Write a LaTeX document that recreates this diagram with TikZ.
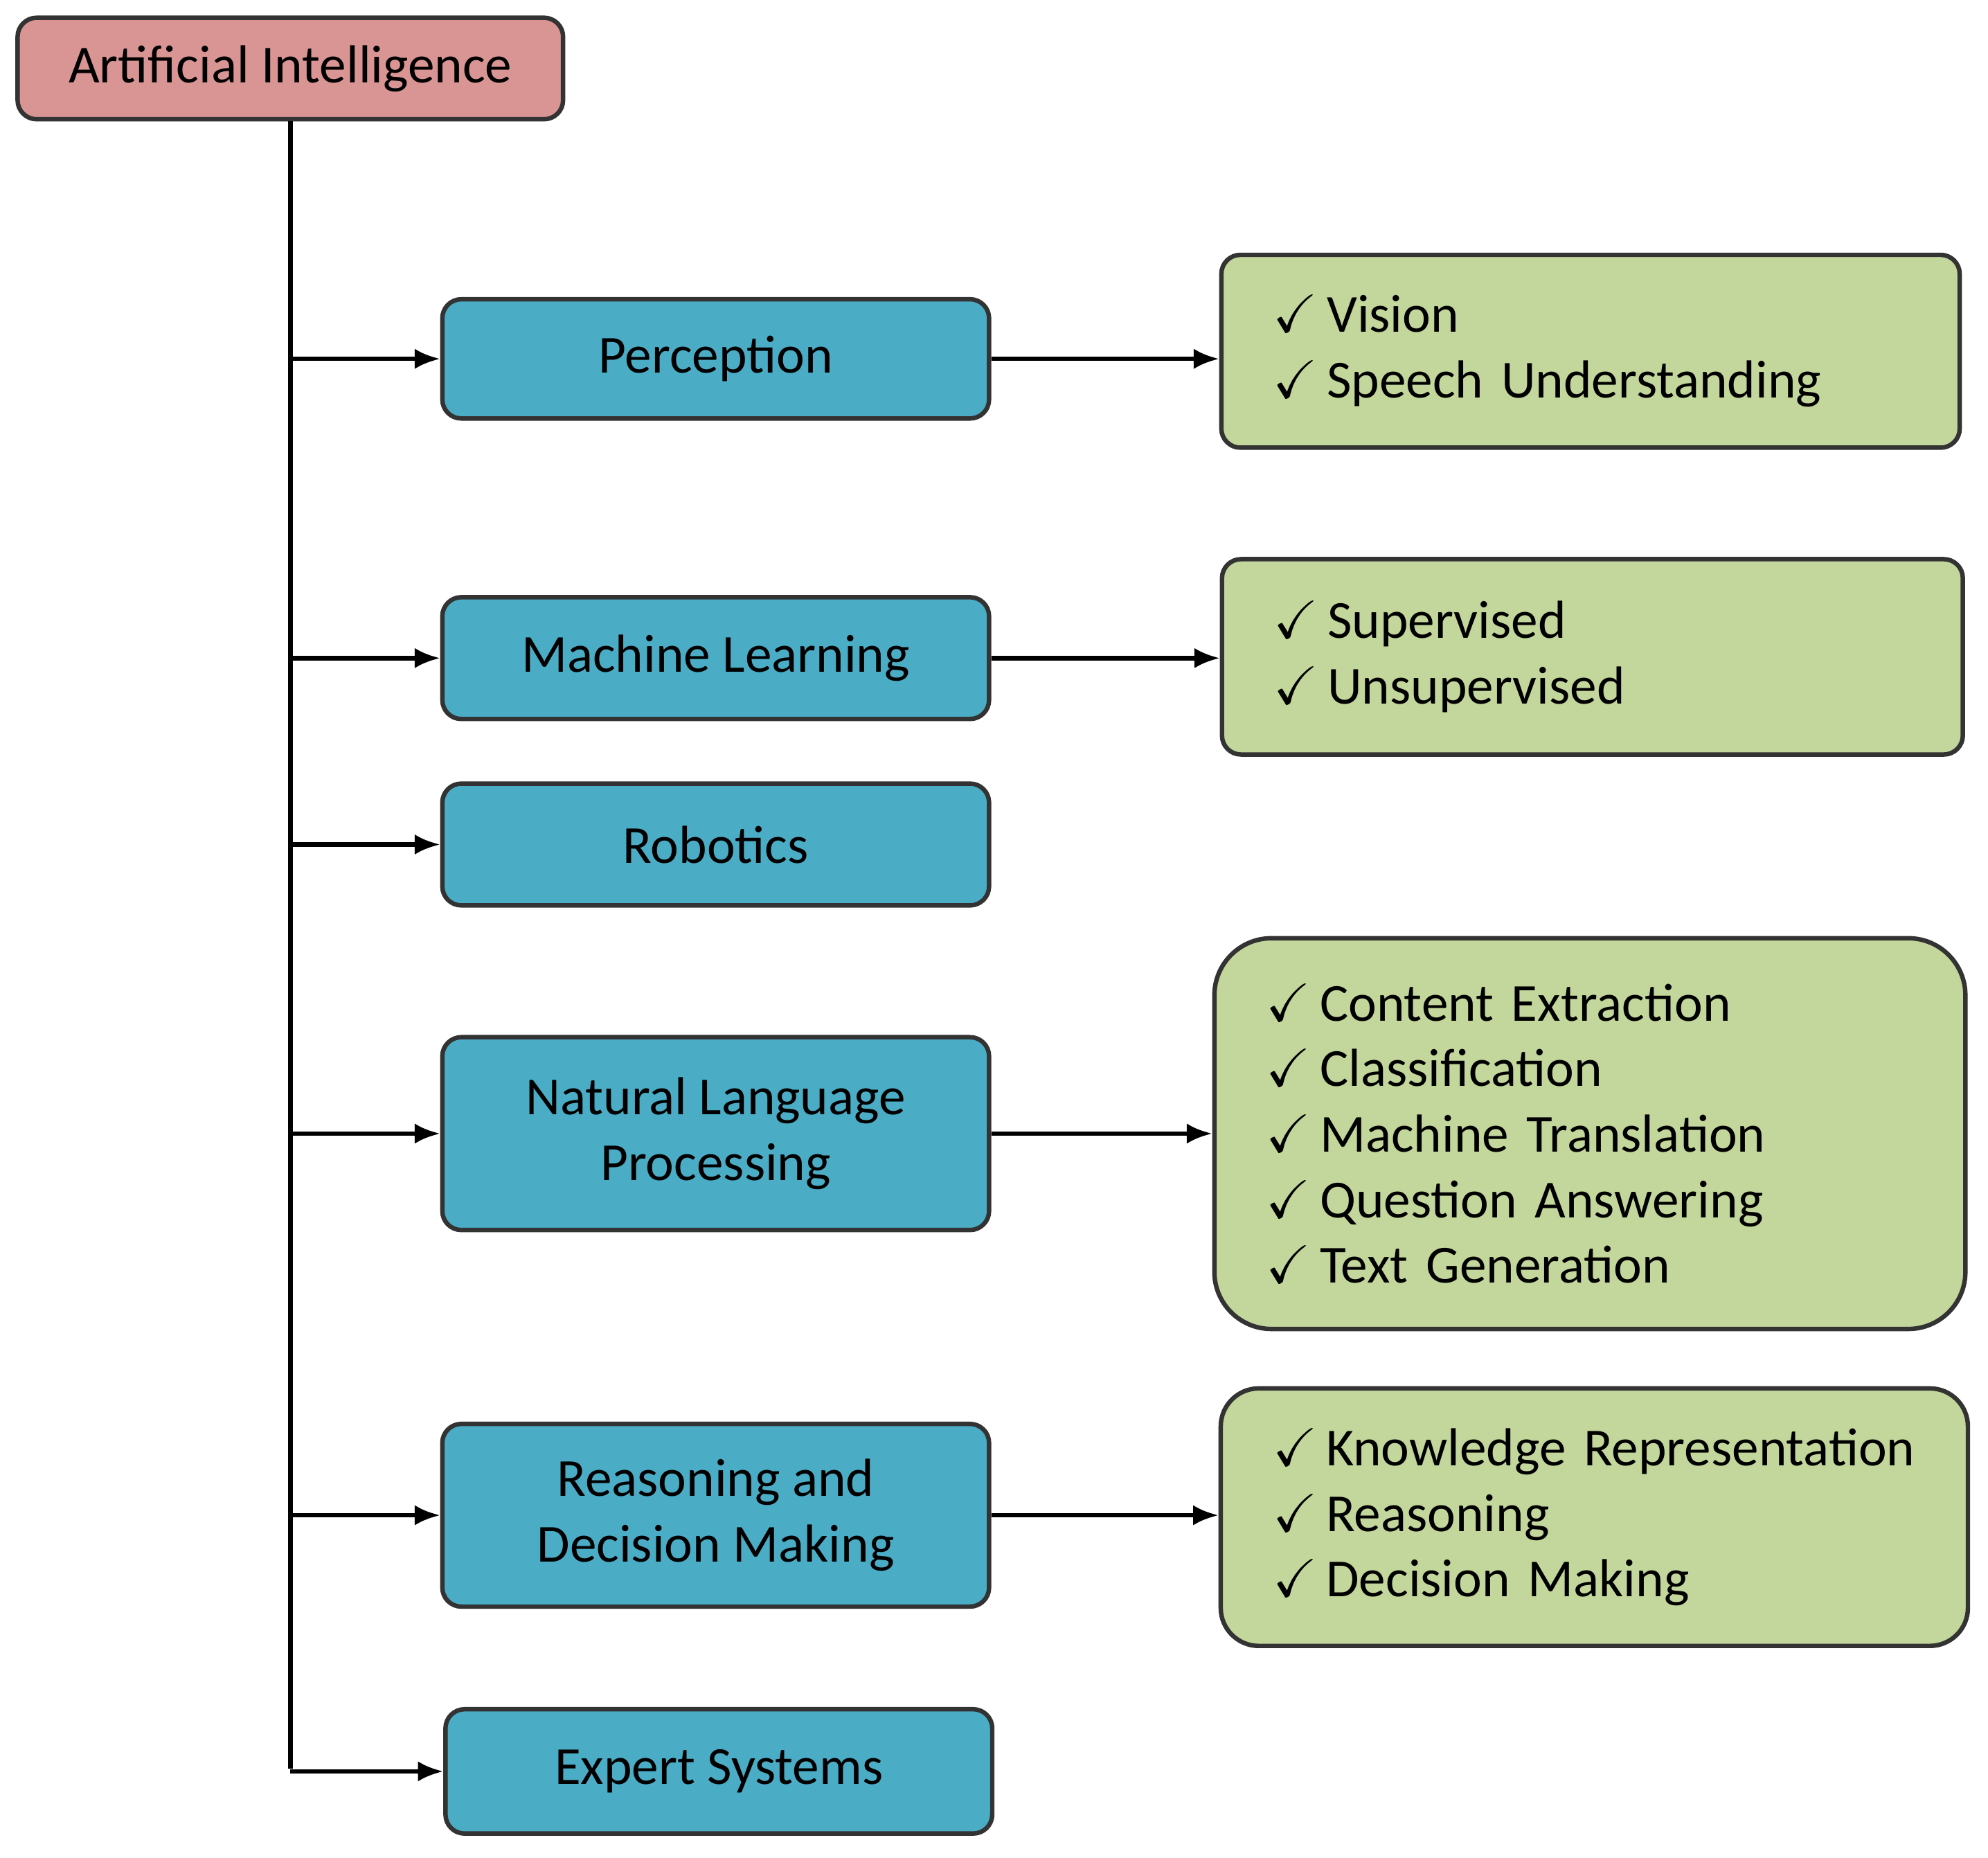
\documentclass[tikz,border=0pt]{standalone}
\usepackage{amssymb}
\usepackage{fontspec}
\setmainfont{Carlito}
\usetikzlibrary{arrows.meta}
\definecolor{aipink}{HTML}{D99594}
\definecolor{blu}{HTML}{4BACC6}
\definecolor{grn}{HTML}{C3D69B}
\tikzset{
 box/.style={draw=black!80,line width=1pt,rounded corners=0.15cm,font=\fontsize{12}{14.7}\selectfont,align=center,inner sep=0pt},
 ai/.style={box,fill=aipink,minimum width=4.3cm,minimum height=0.8cm},
 blue/.style={box,fill=blu,minimum width=4.31cm},
 green/.style={box,fill=grn,align=left,inner xsep=0.41cm},
 arr/.style={-{Latex[length=0.2cm,width=0.16cm]},line width=1pt}
}
\newcommand{\ck}{$\checkmark$\,}
\begin{document}
\begin{tikzpicture}[x=0.01cm,y=-0.01cm]
\useasboundingbox (0,0) rectangle (1568,1465);
\node[ai] (ai) at (229,54) {Artificial Intelligence};
\node[blue,minimum height=0.94cm] (p) at (564.5,283) {Perception};
\node[blue,minimum height=0.96cm] (ml) at (564.5,519) {Machine Learning};
\node[blue,minimum height=0.96cm] (r) at (564.5,666) {Robotics};
\node[blue,minimum height=1.52cm] (nlp) at (564.5,894) {Natural Language\\Processing};
\node[blue,minimum height=1.44cm] (rd) at (564.5,1195) {Reasoning and\\Decision Making};
\node[blue,minimum height=0.98cm] (es) at (567,1397) {Expert Systems};
\node[green,minimum height=1.52cm,text width=5.0cm] (g1) at (1254.5,277) {\ck Vision\\\ck Speech Understanding};
\node[green,minimum height=1.54cm,text width=5.02cm] (g2) at (1256,518) {\ck Supervised\\\ck Unsupervised};
\node[green,minimum height=3.08cm,text width=5.1cm,rounded corners=0.45cm] (g3) at (1254,894) {\ck Content Extraction\\\ck Classification\\\ck Machine Translation\\\ck Question Answering\\\ck Text Generation};
\node[green,minimum height=2.03cm,text width=5.07cm,rounded corners=0.3cm] (g4) at (1257.5,1196.5) {\ck Knowledge Representation\\\ck Reasoning\\\ck Decision Making};
\coordinate (t) at (229,1395);
\draw[line width=1pt] (ai.south) -- (t);
\foreach \n in {p,ml,r,nlp,rd,es}{\draw[arr] (ai.south |- \n.west) -- (\n.west);}
\draw[arr] (p.east) -- (g1.west |- p.east);
\draw[arr] (ml.east) -- (g2.west |- ml.east);
\draw[arr] (nlp.east) -- (g3.west |- nlp.east);
\draw[arr] (rd.east) -- (g4.west |- rd.east);
\end{tikzpicture}
\end{document}
